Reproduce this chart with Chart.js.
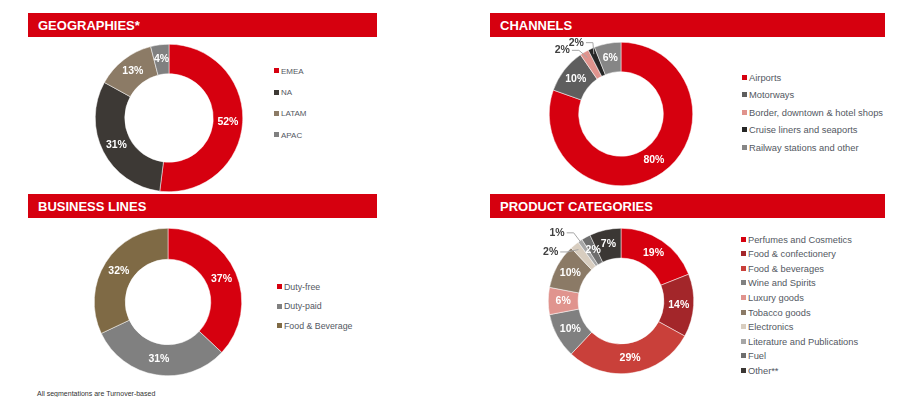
<!DOCTYPE html>
<html>
<head>
<meta charset="utf-8">
<title>Segmentations</title>
<script src="https://cdn.jsdelivr.net/npm/chart.js@4.4.1/dist/chart.umd.min.js"></script>
<style>
  body { margin: 0; background: #fff; font-family: "Liberation Sans", Arial, sans-serif; }
  #page { position: relative; width: 910px; height: 397px; overflow: hidden; }
  .hdr { position: absolute; background: #d6000f; color: #fff; font-weight: bold; font-size: 13px;
         height: 24px; line-height: 26px; padding-left: 10px; box-sizing: border-box; }
  canvas { position: absolute; }
  .leg { position: absolute; color: #535862; white-space: nowrap; }
  .leg span { display: inline-block; width: 5px; height: 5px; margin-right: 2px; vertical-align: middle; position: relative; top: -1px; }
  #note { position: absolute; left: 37px; top: 390px; font-size: 7px; color: #333; }
</style>
<script>
// data
var geoLabels = ['EMEA', 'NA', 'LATAM', 'APAC'];
var geoValues = [52, 31, 13, 4];

var chanLabels = ['Airports', 'Motorways', 'Border, downtown & hotel shops', 'Cruise liners and seaports', 'Railway stations and other'];
var chanValues = [80, 10, 2, 1.5, 6];

var busLabels = ['Duty-free', 'Duty-paid', 'Food & Beverage'];
var busValues = [37, 31, 32];

var prodLabels = ['Perfumes and Cosmetics', 'Food & confectionery', 'Food & beverages', 'Wine and Spirits', 'Luxury goods',
                  'Tobacco goods', 'Electronics', 'Literature and Publications', 'Fuel', 'Other**'];
var prodValues = [19, 14, 29, 10, 6, 10, 2, 1, 2, 7];

// colours
var geoColors = ['#d6000f', '#3d3935', '#8c7b66', '#808080'];
var chanColors = ['#d6000f', '#5e5e5e', '#e0938d', '#262626', '#868686'];
var busColors = ['#d6000f', '#808080', '#7f6a45'];
var prodColors = ['#d6000f', '#a3262a', '#c9403a', '#808080', '#e0948e', '#8b7a66', '#d8cdbf', '#a6a6a6', '#6e6e6e', '#3b3734'];

// draws the % labels, inside the ring or outside with a leader line
var sliceLabels = {
  id: 'sliceLabels',
  afterDatasetsDraw: function(chart, args, opts) {
    var ctx = chart.ctx;
    var meta = chart.getDatasetMeta(0);
    var values = chart.data.datasets[0].data;
    var outside = opts.outside || {};
    ctx.save();
    ctx.font = 'bold 10.5px "Liberation Sans", Arial, sans-serif';
    ctx.textAlign = 'center';
    ctx.textBaseline = 'middle';
    meta.data.forEach(function(arc, i) {
      var p = arc.getProps(['x', 'y', 'startAngle', 'endAngle', 'innerRadius', 'outerRadius'], true);
      var mid = (p.startAngle + p.endAngle) / 2;
      var text = Math.round(values[i]) + '%';
      var o = outside[i];
      if (o) {
        var ax = p.x + Math.cos(mid) * (p.outerRadius - 6);
        var ay = p.y + Math.sin(mid) * (p.outerRadius - 6);
        var lx = p.x + Math.cos(mid) * p.outerRadius + o[0];
        var ly = p.y + Math.sin(mid) * p.outerRadius + o[1];
        var w = ctx.measureText(text).width;
        ctx.strokeStyle = '#a6a6a6';
        ctx.lineWidth = 1;
        ctx.beginPath();
        ctx.moveTo(lx + w / 2 + 2, ly);
        ctx.lineTo(lx + w / 2 + 9, ly);
        ctx.lineTo(ax, ay);
        ctx.stroke();
        ctx.fillStyle = '#404040';
        ctx.fillText(text, lx, ly);
      } else {
        var r = (p.innerRadius + p.outerRadius) / 2;
        ctx.fillStyle = '#fff';
        ctx.fillText(text, p.x + Math.cos(mid) * r, p.y + Math.sin(mid) * r);
      }
    });
    ctx.restore();
  }
};

function makeDonut(id, cx, cy, r, labels, values, colors, cutout, outside) {
  var cv = document.getElementById(id);
  var W = 200, H = 170;
  cv.width = W; cv.height = H;
  cv.style.left = (cx - W / 2) + 'px';
  cv.style.top = (cy - H / 2) + 'px';
  var px = (W - 2 * r) / 2, py = (H - 2 * r) / 2;
  new Chart(cv, {
    type: 'doughnut',
    data: {
      labels: labels,
      datasets: [{ data: values, backgroundColor: colors, borderColor: '#fff', borderWidth: 0.5 }]
    },
    options: {
      responsive: false,
      animation: false,
      cutout: cutout,
      layout: { padding: { left: px, right: px, top: py, bottom: py } },
      plugins: {
        legend: { display: false },
        tooltip: { enabled: false },
        sliceLabels: { outside: outside }
      }
    },
    plugins: [sliceLabels]
  });
}

function makeLegend(labels, colors, x, y0, step, size) {
  var page = document.getElementById('page');
  labels.forEach(function(l, i) {
    var d = document.createElement('div');
    d.className = 'leg';
    d.style.left = x + 'px';
    d.style.top = (y0 + i * step - 7) + 'px';
    d.style.fontSize = size + 'px';
    d.style.lineHeight = '14px';
    var s = document.createElement('span');
    s.style.background = colors[i];
    d.appendChild(s);
    d.appendChild(document.createTextNode(l));
    page.appendChild(d);
  });
}

function start() {
  makeDonut('geoChart', 168.5, 118, 74, geoLabels, geoValues, geoColors, '60%', {});
  makeDonut('chanChart', 621, 114, 72, chanLabels, chanValues, chanColors, '59%', { 2: [-22, -2], 3: [-15, -6] });
  makeDonut('busChart', 168, 301.5, 74, busLabels, busValues, busColors, '58%', {});
  makeDonut('prodChart', 621, 301, 73, prodLabels, prodValues, prodColors, '59%', { 6: [-24, 7], 7: [-23, -8] });

  makeLegend(geoLabels, geoColors, 274, 72, 21.2, 8);
  makeLegend(chanLabels, chanColors, 742, 78, 17.4, 9.35);
  makeLegend(busLabels, busColors, 277, 287, 19.4, 8.8);
  makeLegend(prodLabels, prodColors, 741, 239.7, 14.56, 9.3);
}
</script>
</head>
<body onload="start()">
<div id="page">
  <div class="hdr" style="left:28px;top:13px;width:349px;">GEOGRAPHIES*</div>
  <div class="hdr" style="left:490px;top:13px;width:395px;">CHANNELS</div>
  <div class="hdr" style="left:28px;top:194px;width:349px;">BUSINESS LINES</div>
  <div class="hdr" style="left:490px;top:194px;width:395px;">PRODUCT CATEGORIES</div>

  <canvas id="geoChart"></canvas>
  <canvas id="chanChart"></canvas>
  <canvas id="busChart"></canvas>
  <canvas id="prodChart"></canvas>

  <div id="note">All segmentations are Turnover-based</div>
</div>
</body>
</html>
